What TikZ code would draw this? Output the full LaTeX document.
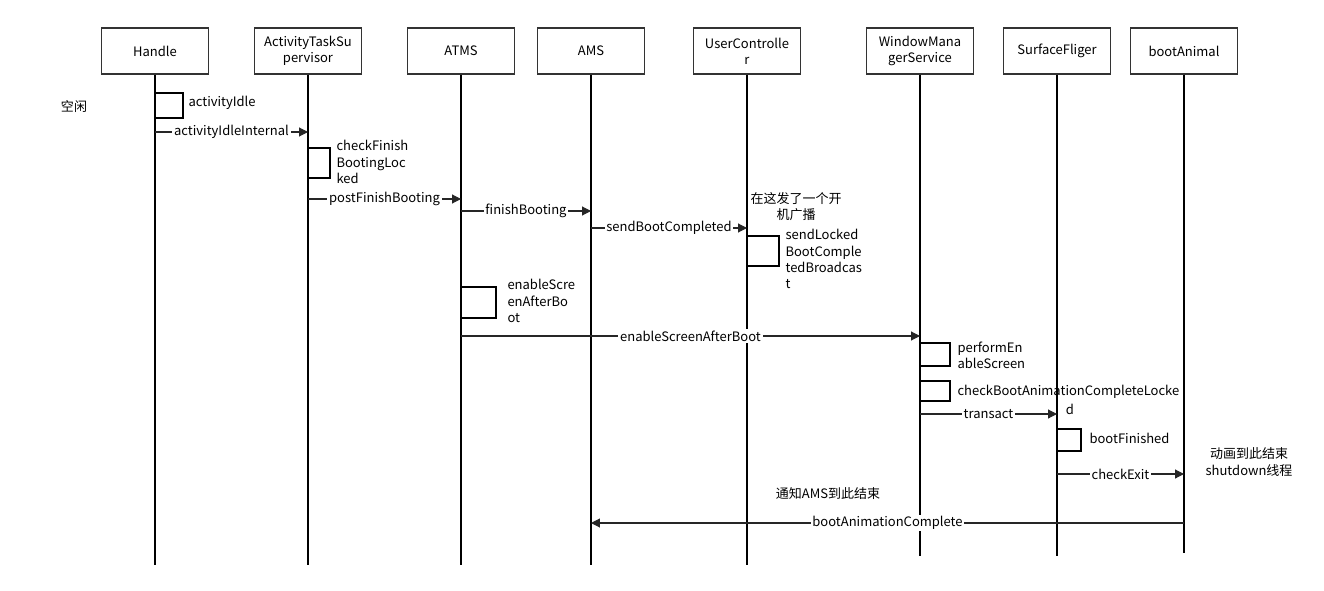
\documentclass[tikz,border=0pt]{standalone}
\usepackage{fontspec}
\setmainfont{Noto Sans CJK SC}
\usetikzlibrary{arrows.meta}
\tikzstyle{head}=[shape=rectangle, draw=black!80, minimum height=46*0.02cm,
                  minimum width=107*0.02cm, align=center, inner sep=1pt]
\tikzstyle{msg}=[-{Triangle[length=5pt,width=5pt]}, draw=black!85]
\tikzstyle{lbl}=[fill=white, inner sep=1pt]
\tikzstyle{note}=[align=left, anchor=north west, inner sep=0pt]

\begin{document}
\begin{tikzpicture}[x=0.02cm, y=-0.02cm, semithick, font=\fontsize{7.4}{9.2}\selectfont]
\useasboundingbox (0,0) rectangle (1324,591);

% lifelines
\node[head] (hd) at (155,51) {Handle};
\node[head] (ats) at (308,51) {ActivityTaskSu\\pervisor};
\node[head] (atms) at (461,51) {ATMS};
\node[head] (ams) at (591,51) {AMS};
\node[head] (uc) at (747,51) {UserControlle\\r};
\node[head] (wms) at (920,51) {WindowMana\\gerService};
\node[head] (sf) at (1057,51) {SurfaceFliger};
\node[head] (ba) at (1184,51) {bootAnimal};

\draw (hd.south) -- (155,565);
\draw (ats.south) -- (308,565);
\draw (atms.south) -- (461,565);
\draw (ams.south) -- (591,565);
\draw (uc.south) -- (747,565);
\draw (wms.south) -- (920,556);
\draw (sf.south) -- (1057,556);
\draw (ba.south) -- (1184,553);

% self calls
\draw (155,93) -| (183,118) -- (155,118);
\draw (308,148) -| (330,178) -- (308,178);
\draw (747,236) -| (779,266) -- (747,266);
\draw (461,287) -| (496,318) -- (461,318);
\draw (920,343) -| (950,366) -- (920,366);
\draw (920,381) -| (950,401) -- (920,401);
\draw (1057,429) -| (1081,451) -- (1057,451);

% messages
\draw[msg] (155,132) -- node[lbl] {activityIdleInternal} (308,132);
\draw[msg] (308,199) -- node[lbl] {postFinishBooting} (461,199);
\draw[msg] (461,211) -- node[lbl] {finishBooting} (591,211);
\draw[msg] (591,228) -- node[lbl] {sendBootCompleted} (747,228);
\draw[msg] (461,336) -- node[lbl] {enableScreenAfterBoot} (920,336);
\draw[msg] (920,414) -- node[lbl] {transact} (1057,414);
\draw[msg] (1057,474) -- node[lbl] {checkExit} (1184,474);
\draw[msg] (1184,523) -- node[lbl] {bootAnimationComplete} (591,523);

% notes
\node (idle) at (74,107) {空闲};
\node[note] (n1) at (188,96) {activityIdle};
\node[note] (n2) at (336,140) {checkFinish\\BootingLoc\\ked};
\node[align=center] (n3) at (796,207) {在这发了一个开\\机广播};
\node[note] (n4) at (785,229) {sendLocked\\BootComple\\tedBroadcas\\t};
\node[note] (n5) at (507,279) {enableScre\\enAfterBo\\ot};
\node[note] (n6) at (957,341) {performEn\\ableScreen};
\node[note] (n7) at (957,385) {checkBootAnimationCompleteLocke};
\node (n7b) at (1070,409) {d};
\node[note] (n8) at (1089,433) {bootFinished};
\node[align=center] (n9) at (1249,462) {动画到此结束\\shutdown线程};
\node (n10) at (828,494) {通知AMS到此结束};

\end{tikzpicture}
\end{document}
